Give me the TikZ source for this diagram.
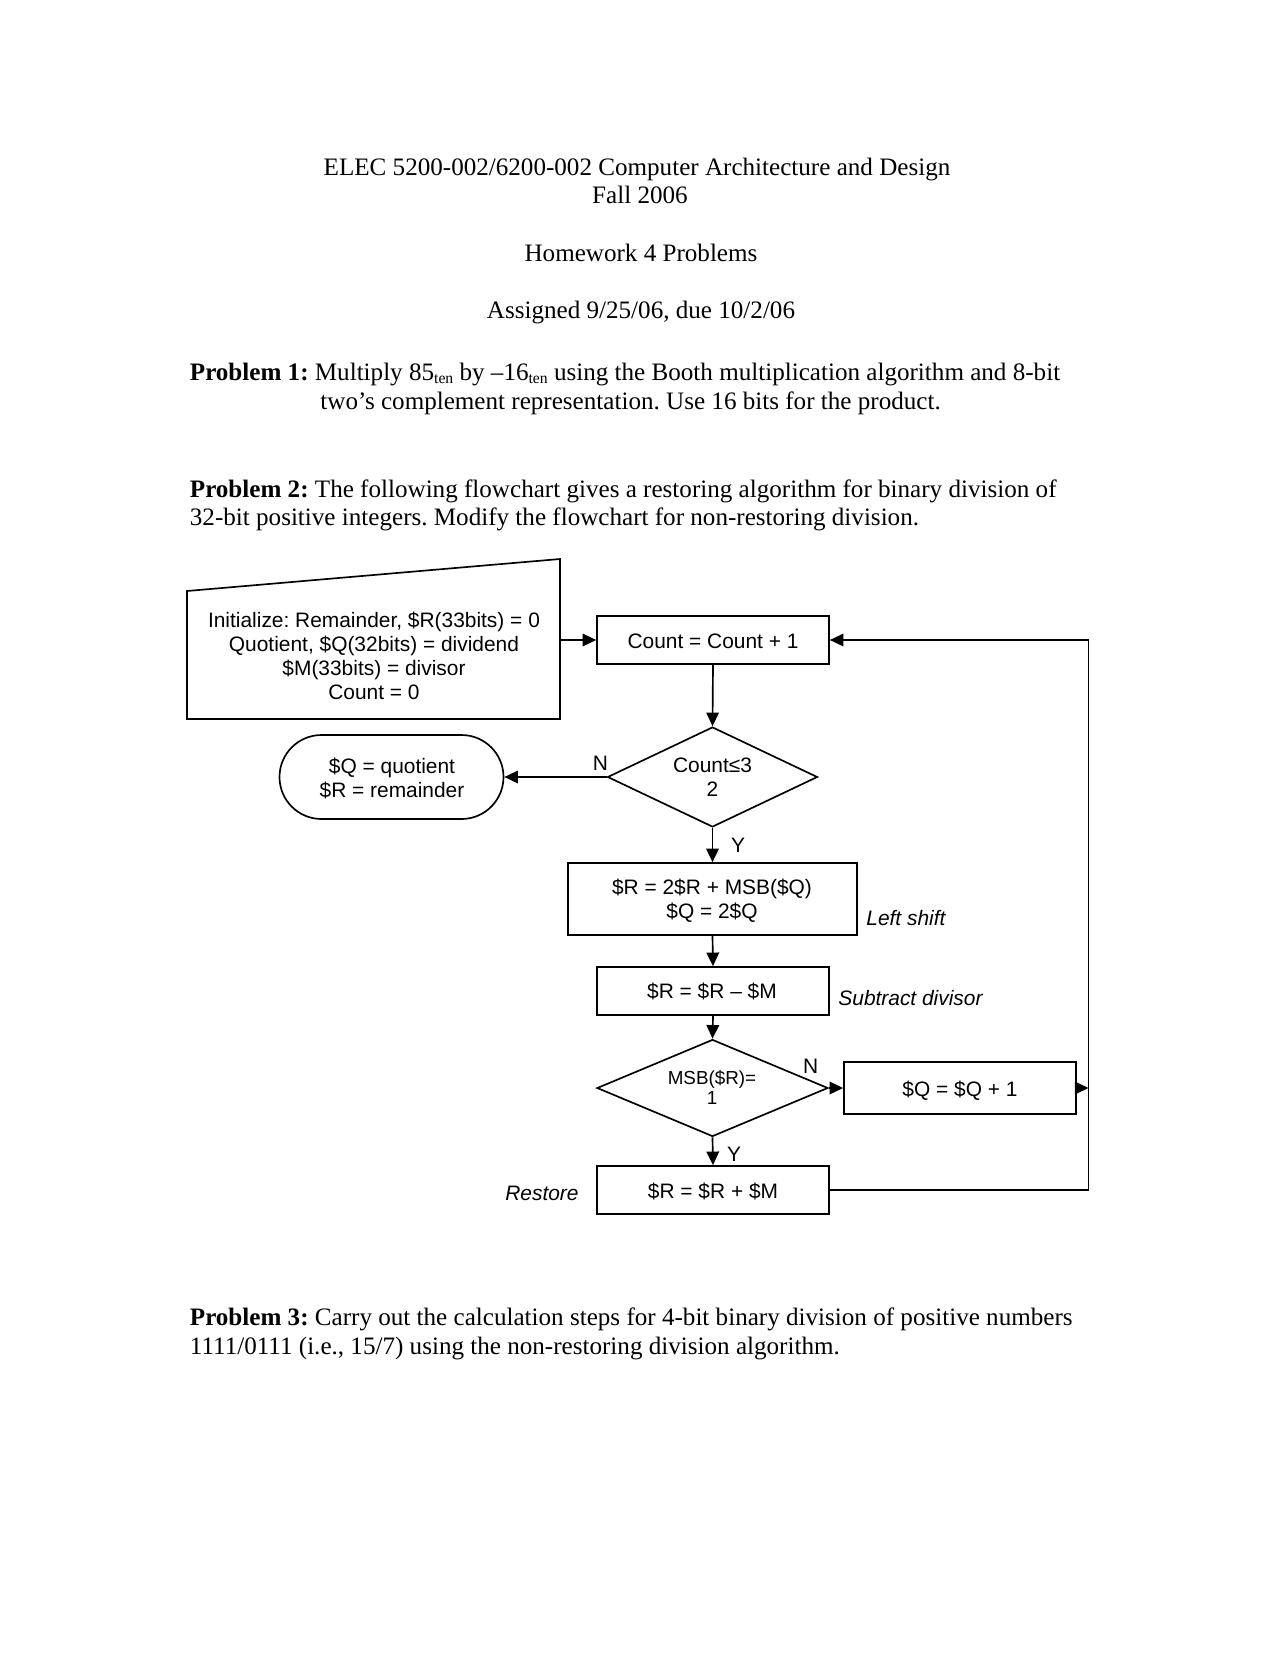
\documentclass[tikz,border=0pt]{standalone}
\usepackage{fontspec}
\setmainfont{Liberation Serif}
\setsansfont{Liberation Sans}
\usetikzlibrary{shapes.geometric,shapes.misc,arrows.meta}
\newcommand\pxu{0.478125pt}
\newcommand\mlines[1]{\begin{tabular}[t]{@{}c@{}}#1\end{tabular}}
\newcommand\tensub{\raisebox{-0.3ex}{\fontsize{7.5}{8}\selectfont ten}}
\frenchspacing
\begin{document}
\begin{tikzpicture}[x=0.478125pt,y=-0.478125pt,
  body/.style={inner sep=0,font=\fontsize{12}{13.8}\selectfont},
  chart/.style={inner sep=0,font=\sffamily\fontsize{10}{11.5}\selectfont},
  small/.style={inner sep=0,font=\sffamily\fontsize{9}{9.6}\selectfont},
  note/.style={inner sep=0,font=\sffamily\itshape\fontsize{10}{11.5}\selectfont},
  box/.style={draw,line width=0.8pt,inner sep=0,rectangle},
  dia/.style={draw,diamond,line width=0.8pt,inner sep=0},
  arr/.style={line width=0.8pt,-{Triangle[length=6.5pt,width=6pt]}},
  ln/.style={line width=0.8pt}]
\useasboundingbox (0,0) rectangle (1280,1656);
\fill[white] (0,0) rectangle (1280,1656);

% ---- header text ----
\node[body, anchor=base] (title1) at (637,175) {ELEC 5200-002/6200-002 Computer Architecture and Design};
\node[body, anchor=base] (title2) at (640,203) {Fall 2006};
\node[body, anchor=base] (hw) at (641,261.5) {Homework 4 Problems};
\node[body, anchor=base] (asg) at (641,318) {Assigned 9/25/06, due 10/2/06};
\node[body, anchor=base west] (p1a) at (189.5,380) {\textbf{Problem 1:} Multiply 85\tensub{} by –16\tensub{} using the Booth multiplication algorithm and 8-bit};
\node[body, anchor=base west] (p1b) at (320,409) {two’s complement representation. Use 16 bits for the product.};
\node[body, anchor=base west] (p2a) at (189.5,497) {\textbf{Problem 2:} The following flowchart gives a restoring algorithm for binary division of};
\node[body, anchor=base west] (p2b) at (189.5,525) {32-bit positive integers. Modify the flowchart for non-restoring division.};
\node[body, anchor=base west] (p3a) at (189.5,1325) {\textbf{Problem 3:} Carry out the calculation steps for 4-bit binary division of positive numbers};
\node[body, anchor=base west] (p3b) at (189.5,1354) {1111/0111 (i.e., 15/7) using the non-restoring division algorithm.};

% ---- init (manual input shape) ----
\coordinate (iTL) at (187,591);
\coordinate (iTR) at (560,559);
\coordinate (iBR) at (560,719);
\coordinate (iBL) at (187,719);
\draw[ln] (iTL) -- (iTR) -- (iBR) -- (iBL) -- cycle;
\node[chart, anchor=base] (initT) at (374,627) {\mlines{Initialize: Remainder, \$R(33bits) = 0\\Quotient, \$Q(32bits) = dividend\\\$M(33bits) = divisor\\Count = 0}};
\coordinate (initE) at (560,640);

% ---- shapes ----
\node[box, minimum width=232*\pxu, minimum height=48*\pxu] (count) at (713,640) {};
\node[dia, minimum width=210*\pxu, minimum height=100*\pxu] (dec1) at (712.5,777) {};
\node[draw, rounded rectangle, line width=0.8pt, inner sep=0, minimum width=224*\pxu, minimum height=84*\pxu] (term) at (391.5,777) {};
\node[box, minimum width=289*\pxu, minimum height=72*\pxu] (shift) at (712.5,899) {};
\node[box, minimum width=232*\pxu, minimum height=48*\pxu] (sub) at (713,991) {};
\node[dia, minimum width=231*\pxu, minimum height=97*\pxu] (dec2) at (712.5,1088) {};
\node[box, minimum width=232*\pxu, minimum height=52*\pxu] (qinc) at (960,1088) {};
\node[box, minimum width=232*\pxu, minimum height=48*\pxu] (restore) at (713,1190) {};

% ---- texts in shapes ----
\node[chart, anchor=base] (countT) at (713,648) {Count = Count + 1};
\node[chart, anchor=base] (dec1T) at (712.5,772.7) {\mlines{Count≤3\\2}};
\node[chart, anchor=base] (termT) at (392,773.3) {\mlines{\$Q = quotient\\\$R = remainder}};
\node[chart, anchor=base] (shiftT) at (712,894.5) {\mlines{\$R = 2\$R + MSB(\$Q)\\\$Q = 2\$Q}};
\node[chart, anchor=base] (subT) at (712,998) {\$R = \$R – \$M};
\node[small, anchor=base] (dec2T) at (712,1084) {\mlines{MSB(\$R)=\\1}};
\node[chart, anchor=base] (qincT) at (960,1096.7) {\$Q = \$Q + 1};
\node[chart, anchor=base] (restoreT) at (713,1198) {\$R = \$R + \$M};

% ---- labels ----
\node[chart, anchor=base] (n1) at (600.5,770) {N};
\node[chart, anchor=base] (y1) at (738,852.7) {Y};
\node[chart, anchor=base] (n2) at (810.6,1073) {N};
\node[chart, anchor=base] (y2) at (734,1161.7) {Y};
\node[note, anchor=base west] (lshift) at (866,925) {Left shift};
\node[note, anchor=base west] (subdiv) at (838,1005) {Subtract divisor};
\node[note, anchor=base east] (rest) at (579,1200) {Restore};

% ---- connectors ----
\coordinate (loopC) at (1088.5,640);
\draw[arr] (initE) -- (count.west);
\draw[arr] (count.south) -- (dec1.north);
\draw[arr] (dec1.west) -- (term.east);
\draw[arr] (dec1.south) -- (shift.north);
\draw[arr] (shift.south) -- (sub.north);
\draw[arr] (sub.south) -- (dec2.north);
\draw[arr] (dec2.east) -- (qinc.west);
\draw[arr] (dec2.south) -- (restore.north);
\draw[arr] (restore.east) -| (loopC) -- (count.east);
\draw[arr] (qinc.east) -- (qinc.east -| loopC);
\end{tikzpicture}
\end{document}
